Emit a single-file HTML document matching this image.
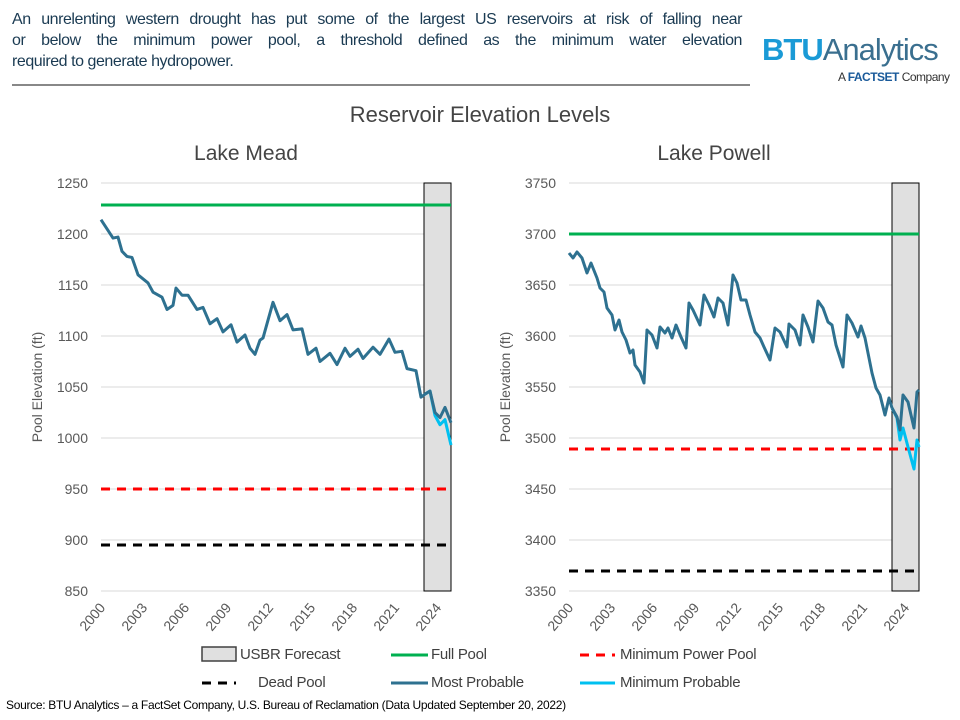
<!DOCTYPE html>
<html><head><meta charset="utf-8"><style>
body{margin:0;width:960px;height:720px;background:#fff;font-family:"Liberation Sans",sans-serif;overflow:hidden;position:relative}
.hl{position:absolute;left:12px;width:730px;font-size:16px;line-height:21px;color:#1a3a52;letter-spacing:-0.45px;white-space:nowrap}
.j{text-align:justify;text-align-last:justify;white-space:normal}
#rule{position:absolute;left:12px;top:84px;width:738px;height:2px;background:#888}
#logo{position:absolute;left:762px;top:32px;font-size:31px;letter-spacing:-1px;color:#3a6f8f}
#logo b{color:#1a9ad6}
#sub{position:absolute;left:838px;top:70px;font-size:12px;color:#333;letter-spacing:-0.5px}
#src{position:absolute;left:6px;top:698px;font-size:12px;color:#000;letter-spacing:-0.3px}
</style></head><body>
<div class="hl j" style="top:9px">An unrelenting western drought has put some of the largest US reservoirs at risk of falling near</div>
<div class="hl j" style="top:30px">or below the minimum power pool, a threshold defined as the minimum water elevation</div>
<div class="hl" style="top:51px">required to generate hydropower.</div>
<div id="rule"></div>
<div id="logo"><b>BTU</b>Analytics</div>
<div id="sub">A <b style="color:#1a5a9a">FACTSET</b> Company</div>
<svg id="s" width="960" height="720" style="position:absolute;left:0;top:0" font-family="Liberation Sans, sans-serif"></svg>
<div id="src">Source: BTU Analytics – a FactSet Company, U.S. Bureau of Reclamation (Data Updated September 20, 2022)</div>
<script>
var s=document.getElementById('s'),h='';
h+='<text x="480" y="122" font-size="22" fill="#444" text-anchor="middle">Reservoir Elevation Levels</text>';
h+='<text x="246" y="160" font-size="21" fill="#444" text-anchor="middle">Lake Mead</text>';
h+='<text x="714" y="160" font-size="21" fill="#444" text-anchor="middle">Lake Powell</text>';
function chart(x0,top){
 for(var i=0;i<9;i++){var y=183+i*51;h+='<line x1="'+x0+'" x2="'+(x0+350)+'" y1="'+y+'" y2="'+y+'" stroke="#d9d9d9" stroke-width="1"/>';
 h+='<text x="'+(x0-13)+'" y="'+(y+5)+'" font-size="14" fill="#595959" text-anchor="end">'+(top-i*50)+'</text>';}
 h+='<rect x="'+(x0+323)+'" y="183" width="27" height="408" fill="#e0e0e0" stroke="#000" stroke-width="1"/>';
 for(var k=0;k<9;k++){var yr=2000+3*k,x=x0+14*3*k;h+='<text transform="translate('+(x+5)+',608) rotate(-50)" font-size="14" fill="#595959" text-anchor="end">'+yr+'</text>';}
 h+='<text transform="translate('+(x0-59)+',387) rotate(-90)" font-size="14" fill="#595959" text-anchor="middle">Pool Elevation (ft)</text>';
}
chart(101,1250);chart(569,3750);
function hl(x0,y,c,d){h+='<line x1="'+x0+'" x2="'+(x0+350)+'" y1="'+y+'" y2="'+y+'" stroke="'+c+'" stroke-width="3"'+(d?' stroke-dasharray="9,7"':'')+'/>';}
hl(101,205,'#00b050');hl(101,489,'#f00',1);hl(101,545,'#000',1);
hl(569,234,'#00b050');hl(569,449,'#f00',1);hl(569,571,'#000',1);
function P(pts,c){h+='<polyline fill="none" stroke="'+c+'" stroke-width="3" stroke-linejoin="round" points="'+pts.map(p=>p.join(',')).join(' ')+'"/>';}
var m=[[101,1214],[105,1208],[113,1196],[118,1197],[122,1183],[127,1178],[132,1177],[138,1160],[148,1152],[153,1143],[162,1138],[167,1126],[173,1130],[176,1147],[182,1140],[188,1140],[197,1126],[203,1128],[210,1112],[217,1117],[223,1104],[231,1111],[237,1094],[245,1101],[250,1088],[255,1082],[260,1096],[263,1098],[273,1133],[280,1115],[287,1121],[293,1106],[302,1107],[308,1082],[316,1088],[320,1075],[330,1083],[337,1072],[345,1088],[350,1080],[358,1087],[363,1078],[373,1089],[380,1082],[389,1097],[395,1084],[402,1085],[407,1068],[416,1066],[421,1040],[425,1043]];
var f=v=>183+(1250-v)*1.02;
var mm=m.map(p=>[p[0],f(p[1])]);
var mp=[[425,1043],[430,1046],[435,1025],[440,1020],[445,1030],[451,1015]].map(p=>[p[0],f(p[1])]);
var mn=[[425,1043],[430,1046],[435,1022],[440,1013],[445,1018],[451,993]].map(p=>[p[0],f(p[1])]);
P(mn,'#00c0f0');P(mm,'#2e7190');P(mp,'#2e7190');
var pw=[[569,253],[573,258],[577,252],[582,258],[587,273],[591,263],[597,278],[600,288],[604,292],[607,308],[612,315],[615,330],[619,320],[622,332],[626,340],[630,353],[633,350],[635,365],[640,372],[644,383],[647,330],[652,335],[657,348],[660,327],[665,333],[668,328],[672,338],[676,325],[681,337],[686,348],[689,303],[693,310],[700,325],[704,295],[709,305],[714,317],[718,298],[723,303],[728,325],[733,275],[737,283],[741,300],[746,300],[750,315],[755,332],[760,338],[764,347],[770,360],[775,328],[780,332],[787,347],[789,324],[795,330],[800,345],[803,315],[808,327],[813,342],[818,301],[823,308],[828,322],[832,325],[836,345],[843,367],[847,315],[852,323],[858,337],[861,326],[865,338],[872,373],[876,388],[880,395],[885,415],[889,398],[892,408]];
P([[892,408],[897,418],[900,440],[903,428],[908,447],[914,469],[917,440],[919,447]],'#00c0f0');
P(pw,'#2e7190');P([[892,408],[897,417],[900,430],[903,395],[908,402],[914,428],[917,392],[919,390]],'#2e7190');
function L(x,y,t){h+='<text x="'+x+'" y="'+(y+5)+'" font-size="15" fill="#404040" letter-spacing="-0.3">'+t+'</text>';}
h+='<rect x="202" y="647" width="34" height="14" fill="#e0e0e0" stroke="#404040" stroke-width="1.5"/>';L(240,654,'USBR Forecast');
h+='<line x1="391" x2="428" y1="655" y2="655" stroke="#00b050" stroke-width="3"/>';L(431,654,'Full Pool');
h+='<line x1="580" x2="615" y1="655" y2="655" stroke="#f00" stroke-width="3" stroke-dasharray="9,7"/>';L(620,654,'Minimum Power Pool');
h+='<line x1="202" x2="236" y1="683" y2="683" stroke="#000" stroke-width="3" stroke-dasharray="9,7"/>';L(258,682,'Dead Pool');
h+='<line x1="391" x2="428" y1="683" y2="683" stroke="#2e7190" stroke-width="3"/>';L(431,682,'Most Probable');
h+='<line x1="580" x2="615" y1="683" y2="683" stroke="#00c0f0" stroke-width="3"/>';L(620,682,'Minimum Probable');
s.innerHTML=h;
</script>
</body></html>
